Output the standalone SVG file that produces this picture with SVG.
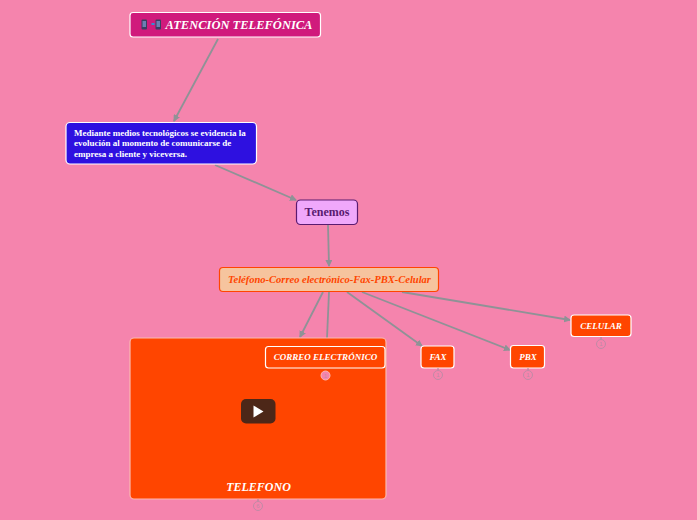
<svg xmlns="http://www.w3.org/2000/svg" width="697" height="520" viewBox="0 0 697 520">
<style>
text{font-family:"Liberation Serif","Times New Roman",serif;font-weight:700;text-anchor:middle}
.i{font-style:italic}
.c{fill:none;stroke:#8f9296;stroke-width:1.8}
.o{fill:#ff4500;stroke:#fff;stroke-width:1.2}
.w{fill:#fff}
.n{fill:none;stroke:#c08aa6;stroke-width:1}
.s{fill:#c08aa6;font-size:6px;font-weight:400;font-family:"Liberation Sans",sans-serif}
.l{stroke:#a08a98;stroke-width:1}
</style>
<defs><marker id="a" markerUnits="userSpaceOnUse" markerWidth="7" markerHeight="7" refX="6" refY="3.5" orient="auto"><path d="M0 0L7 3.500L0 7Z" fill="#8f9296"/></marker></defs>
<rect width="697" height="520" fill="#f584ad"/>
<g id="connectors">
<path class="c" marker-end="url(#a)" d="M218 39L174 121"/>
<path class="c" marker-end="url(#a)" d="M215 165L296 200"/>
<path class="c" marker-end="url(#a)" d="M328 225L329 266"/>
<path class="c" marker-end="url(#a)" d="M323 292L300 337"/>
<path class="c" d="M329 292L327 338"/>
<path class="c" marker-end="url(#a)" d="M347 292L422 346"/>
<path class="c" marker-end="url(#a)" d="M362 292L510 350"/>
<path class="c" marker-end="url(#a)" d="M402 292L570 320"/>
</g>
<g id="node-atencion">
<rect x="130" y="12.500" width="190.500" height="24.500" rx="3" fill="#d01a7c" stroke="#fff" stroke-width="1.200"/>
<rect x="141.500" y="19.500" width="5.500" height="10" rx="1" fill="#3a3f62"/><rect x="142.500" y="21" width="3.500" height="6" fill="#6d7fb4"/>
<rect x="151.500" y="23" width="3" height="2" fill="#2f8fd8"/>
<rect x="155.500" y="19.500" width="5.500" height="10" rx="1" fill="#3a3f62"/><rect x="156.500" y="21" width="3.500" height="6" fill="#6d7fb4"/>
<text class="i" x="239" y="28.500" font-size="12.500" fill="#fff">ATENCIÓN TELEFÓNICA</text>
</g>
<g id="node-mediante">
<rect x="66" y="122.500" width="190.500" height="41.500" rx="4" fill="#2e10e0" stroke="#fff" stroke-width="1.200"/>
<text x="74" y="136" font-size="9" fill="#fff" style="text-anchor:start">Mediante medios tecnológicos se evidencia la</text>
<text x="74" y="146" font-size="9" fill="#fff" style="text-anchor:start">evolución al momento de comunicarse de</text>
<text x="74" y="157" font-size="9" fill="#fff" style="text-anchor:start">empresa a cliente y viceversa.</text>
</g>
<g id="node-tenemos">
<rect x="296.500" y="200" width="61" height="24.500" rx="4" fill="#f0a8fb" stroke="#5a1a70" stroke-width="1.200"/>
<text x="327" y="216" font-size="12" fill="#5a1a70">Tenemos</text>
</g>
<g id="node-lista">
<rect x="219.500" y="267.500" width="219" height="24" rx="3.500" fill="#f6c49e" stroke="#ff4500" stroke-width="1.200"/>
<text class="i" x="329.500" y="283" font-size="10.500" fill="#ff4500">Teléfono-Correo electrónico-Fax-PBX-Celular</text>
</g>
<g id="node-telefono">
<rect x="130" y="338" width="256" height="161" rx="4" fill="#ff4500" stroke="#fbb9b0" stroke-width="1.200"/>
<rect x="241" y="399" width="34.500" height="24.500" rx="5" fill="#4d2718"/>
<path class="w" d="M253.500 405.500L263.500 411.500L253.500 417.500Z"/>
<text class="i" x="258.500" y="491" font-size="12" fill="#fff">TELEFONO</text>
<path class="l" d="M258 499V501"/><circle class="n" cx="258" cy="506" r="4.500"/><text class="s" x="258" y="508">6</text>
</g>
<g id="node-correo">
<rect x="265.500" y="346.500" width="119.500" height="21.500" rx="3" class="o"/>
<text class="i" x="325.500" y="360" font-size="9" fill="#fff">CORREO ELECTRÓNICO</text>
<circle cx="325.500" cy="375.500" r="4.500" fill="#f584ad" stroke="#fbb9b0"/>
<text x="325.500" y="377.500" class="s">1</text>
</g>
<g id="node-fax">
<rect x="421" y="346" width="33" height="22" rx="3" class="o"/>
<text class="i" x="438" y="360" font-size="9" fill="#fff">FAX</text>
<path class="l" d="M438 368V370"/><circle class="n" cx="438" cy="375" r="4.500"/><text class="s" x="438" y="377">1</text>
</g>
<g id="node-pbx">
<rect x="510.500" y="345.500" width="34" height="22.500" rx="3" class="o"/>
<text class="i" x="528" y="360" font-size="9" fill="#fff">PBX</text>
<path class="l" d="M528 368V370"/><circle class="n" cx="528" cy="375" r="4.500"/><text class="s" x="528" y="377">1</text>
</g>
<g id="node-celular">
<rect x="571" y="315" width="60" height="21.500" rx="3" class="o"/>
<text class="i" x="601" y="329" font-size="9" fill="#fff">CELULAR</text>
<path class="l" d="M601 337V339"/><circle class="n" cx="601" cy="344" r="4.500"/><text class="s" x="601" y="346">1</text>
</g>
</svg>
